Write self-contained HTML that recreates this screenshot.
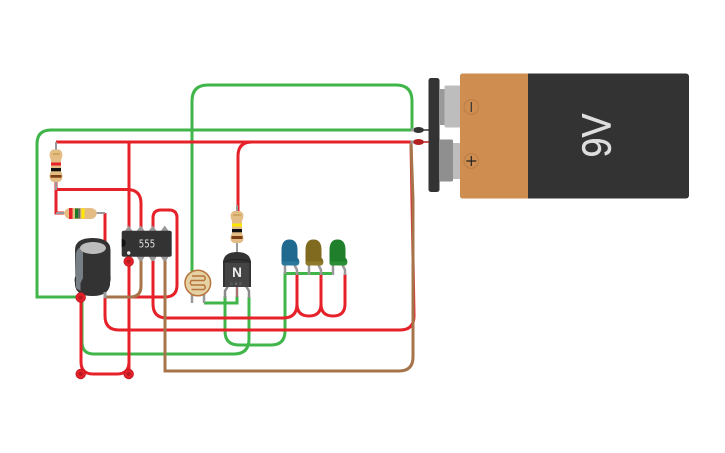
<!DOCTYPE html>
<html><head><meta charset="utf-8"><style>
html,body{margin:0;padding:0;background:#fff;width:725px;height:453px;overflow:hidden}
svg{display:block}
text{font-family:"Liberation Sans",sans-serif}
</style></head><body>
<svg width="725" height="453" viewBox="0 0 725 453" xmlns="http://www.w3.org/2000/svg">
<rect width="725" height="453" fill="#fff"/>

<!-- battery -->
<rect x="428.5" y="78" width="11" height="114" rx="2.5" fill="#333"/>
<rect x="439" y="89" width="6" height="36" fill="#999"/>
<rect x="444.500" y="85.500" width="16" height="42" rx="1.500" fill="#bdbdbd"/>
<rect x="452" y="143" width="9" height="36" fill="#bdbdbd"/>
<rect x="439" y="139.500" width="14" height="42" rx="1.500" fill="#8f8f8f"/>
<rect x="460" y="73.500" width="229" height="125" rx="3" fill="#333"/>
<path d="M528 73.500H463a3 3 0 0 0-3 3V195.500a3 3 0 0 0 3 3H528Z" fill="#cf8d50"/>
<circle cx="471.300" cy="107" r="7.300" fill="none" stroke="#b67c46" stroke-width="0.800"/>
<circle cx="471.300" cy="161" r="7.300" fill="none" stroke="#b67c46" stroke-width="0.800"/>
<path d="M471.300 102V112" stroke="#333" stroke-width="1.200"/>
<path d="M471.300 156V166M466.300 161H476.300" stroke="#222" stroke-width="1.200"/>
<text transform="translate(610.500,157.500) rotate(-90)" font-size="41" fill="#dedede" stroke="#dedede" stroke-width="0.500" textLength="44" lengthAdjust="spacingAndGlyphs">9V</text>

<!-- wires -->
<g fill="none" stroke-width="3" stroke-linecap="butt">
<g stroke="#40b549">
<path d="M413 130H51Q37 130 37 144V297H81"/>
<path d="M192 280V101Q192 85 208 85H396Q412 85 412 101V130"/>
<path d="M82 297V342Q82 354 94 354H234Q249 354 249 339V297"/>
<path d="M204 303H237V296"/>
<path d="M225 296V331Q225 345 239 345H271Q285 345 285 331V273.500H333"/>
</g>
<g stroke="#e62129">
<path d="M56 142H413"/>
<path d="M413 142H252Q238 142 238 156V212"/>
<path d="M129 142V373"/>
<path d="M56 150V213H64"/>
<path d="M56 189.500H127Q141 189.500 141 203.500V228"/>
<path d="M153 228V218Q153 210 161 210H169Q177 210 177 218V285Q177 297 165 297H105"/>
<path d="M105 213V316Q105 330 119 330H400Q414 330 414 316L411 142"/>
<path d="M153 257V304Q153 318 167 318H283Q297 318 297 304V274"/>
<path d="M297 274V304Q297 316 309 316Q321 316 321 304V274"/>
<path d="M321 274V304Q321 316 333 316Q345 316 345 304V274"/>
<path d="M81 297V362Q81 374 93 374H117Q129 374 129 362"/>
</g>
<g stroke="#a5744a">
<path d="M141 257V286Q141 297 130 297H105"/>
<path d="M165 257V371H399Q413 371 413 357V200Q412 170 411 143"/>
</g>
</g>

<!-- battery clips -->
<path d="M413 130H429" stroke="#333" stroke-width="1.500"/>
<ellipse cx="418.500" cy="130" rx="5.500" ry="3" fill="#333"/>
<path d="M413 142H429" stroke="#b32020" stroke-width="1.500"/>
<ellipse cx="418.500" cy="142" rx="5.500" ry="3" fill="#b32020"/>
<rect x="411" y="128.500" width="3" height="3" fill="#999"/>
<rect x="410.500" y="140.500" width="3" height="3" fill="#999"/>

<!-- vertical resistor 1 -->
<path d="M56 142V190" stroke="#999" stroke-width="2"/>
<path d="M53 149.500H59Q62.500 151 62.500 155Q62 158 61 160V171Q62 173 62.500 176Q62.500 180.500 59 182H53Q49.500 180.500 49.500 176Q50 173 51 171V160Q50 158 49.500 155Q49.500 151 53 149.500Z" fill="#e3bd84"/>
<rect x="51" y="162.500" width="10" height="3" fill="#e62129"/>
<rect x="51" y="168" width="10" height="3.300" fill="#111"/>
<rect x="50.500" y="175" width="11" height="2.700" fill="#7d3f14"/>
<rect x="53" y="153.500" width="7" height="1" fill="#b8913f"/>

<!-- horizontal resistor -->
<path d="M56 213H105" stroke="#999" stroke-width="2"/>
<path d="M64 213Q65 208.500 70 208H91Q96 208.500 97 213Q96 218.500 91 219H70Q65 218.500 64 213Z" fill="#e3bd84"/>
<rect x="69" y="208" width="3.500" height="11" fill="#e62129"/>
<rect x="75" y="208.500" width="3.300" height="10" fill="#1a7a25"/>
<rect x="78.300" y="208.500" width="2" height="10" fill="#666"/>
<rect x="81.500" y="208.500" width="3" height="10" fill="#ffe800"/>

<!-- capacitor -->
<path d="M75 250Q75 238 92.500 238Q110.500 238 110.500 250V276Q111 279 110 283V285Q108 296 92.500 296Q76 296 75 285V283Q74 279 75.500 276Z" fill="#333"/>
<path d="M76 253Q78 247 83 246V278L80.500 283L80.500 291L76 288Z" fill="#777f86"/>
<ellipse cx="93" cy="248" rx="13" ry="6" fill="#bdbdbd"/>
<rect x="103.500" y="292" width="3" height="6" fill="#999"/>

<!-- 555 chip -->
<g fill="#999">
<path d="M124.700 231L128.700 225.500L132.700 231Z"/>
<path d="M136.700 231L140.700 225.500L144.700 231Z"/>
<path d="M148.700 231L152.700 225.500L156.700 231Z"/>
<path d="M160.700 231L164.700 225.500L168.700 231Z"/>
<path d="M136.700 256.500H144.700L142 261H139.500Z"/>
<path d="M148.700 256.500H156.700L154 261H151.500Z"/>
<path d="M160.700 256.500H168.700L166 261H163.500Z"/>
</g>
<rect x="121.700" y="230.700" width="50" height="26" rx="2" fill="#333"/>
<path d="M121.700 239a4 4 0 0 1 0 8Z" fill="#111"/>
<circle cx="128.700" cy="253" r="1.700" fill="#eee"/>
<text x="138.700" y="247.500" font-size="11" fill="#e6e6e6" textLength="16.500" lengthAdjust="spacingAndGlyphs" style="font-family:'DejaVu Sans',sans-serif">555</text>

<!-- red dots -->
<g fill="#e62129" stroke="#c21a22" stroke-width="1">
<circle cx="128.700" cy="261.500" r="4.700"/>
<circle cx="80.700" cy="297.500" r="4.700"/>
<circle cx="80.700" cy="374" r="4.700"/>
<circle cx="128.700" cy="374" r="4.700"/>
</g>
<g fill="#b51a20">
<circle cx="128.700" cy="261.500" r="2"/>
<circle cx="80.700" cy="297.500" r="2"/>
<circle cx="80.700" cy="374" r="2"/>
<circle cx="128.700" cy="374" r="2"/>
</g>

<!-- LDR -->
<path d="M192 290V303M204 290V303" stroke="#999" stroke-width="2.500"/>
<circle cx="197.800" cy="283" r="12.800" fill="#e5d2a4" stroke="#b8733c" stroke-width="1.500"/>
<path d="M192 276H204Q206.500 278.200 204 280.500H191.500Q189 282.700 191.500 285H204Q206.500 287.200 204 289.500H191.500" fill="none" stroke="#b8733c" stroke-width="1.500"/>

<!-- vertical resistor 2 -->
<path d="M237 205V254" stroke="#999" stroke-width="2"/>
<path d="M234 211H240Q243.500 212.500 243.500 216Q243 219 242 221V233Q243 235 243.500 238Q243.500 242 240 243H234Q230.500 242 230.500 238Q231 235 232 233V221Q231 219 230.500 216Q230.500 212.500 234 211Z" fill="#e3bd84"/>
<rect x="232" y="223.500" width="10" height="3" fill="#ffe800"/>
<rect x="232" y="229" width="10" height="3.300" fill="#111"/>
<rect x="231.500" y="236" width="11" height="3" fill="#7d3f14"/>
<rect x="233" y="214.500" width="8" height="1" fill="#b8913f"/>

<!-- transistor -->
<path d="M228 286L225 291V298M246 286L249 291V298M237 297V286" fill="none" stroke="#8a8a8a" stroke-width="2.500"/>
<path d="M237 297V286" stroke="#b56565" stroke-width="1.500"/>
<path d="M223 287V262Q224 252 237 252Q250 252 251 262V287Z" fill="#333"/>
<path d="M225 263H249V287H225Z" fill="#444"/>
<path d="M223 262Q237 257 251 262" fill="none" stroke="#222" stroke-width="1"/>
<text x="237" y="277" font-size="13.500" font-weight="bold" fill="#eee" text-anchor="middle">N</text>
<text x="237" y="285" font-size="4" fill="#888" text-anchor="middle" letter-spacing="2">CBE</text>

<!-- LEDs -->
<g fill="none" stroke="#999" stroke-width="2.500">
<path d="M285 264V274M294 264L297 270V275"/>
<path d="M309 264V275M318 264L321 270V275"/>
<path d="M333 264V275M342 264L345 270V275"/>
</g>
<path d="M281.500 250Q281.500 239.500 289.500 239.500Q297.500 239.500 297.500 250V258Q299.300 259 299.300 262Q299.300 265.500 296 265.500H284Q281.500 265.500 281.500 262Z" fill="#1f6a8e"/>
<path d="M281.500 261.500H299.300Q299.300 265.500 296 265.500H284Q281.500 265.500 281.500 261.500Z" fill="#2b7a9e"/>
<path d="M305.500 250Q305.500 239.500 313.500 239.500Q321.500 239.500 321.500 250V258Q323.300 259 323.300 262Q323.300 265.500 320 265.500H308Q305.500 265.500 305.500 262Z" fill="#7f6a1f"/>
<path d="M305.500 261.500H323.300Q323.300 265.500 320 265.500H308Q305.500 265.500 305.500 261.500Z" fill="#8f7a2b"/>
<path d="M329.500 250Q329.500 239.500 337.500 239.500Q345.500 239.500 345.500 250V258Q347.300 259 347.300 262Q347.300 265.500 344 265.500H332Q329.500 265.500 329.500 262Z" fill="#1f7f2a"/>
<path d="M329.500 261.500H347.300Q347.300 265.500 344 265.500H332Q329.500 265.500 329.500 261.500Z" fill="#2b8f36"/>
</svg>
</body></html>
